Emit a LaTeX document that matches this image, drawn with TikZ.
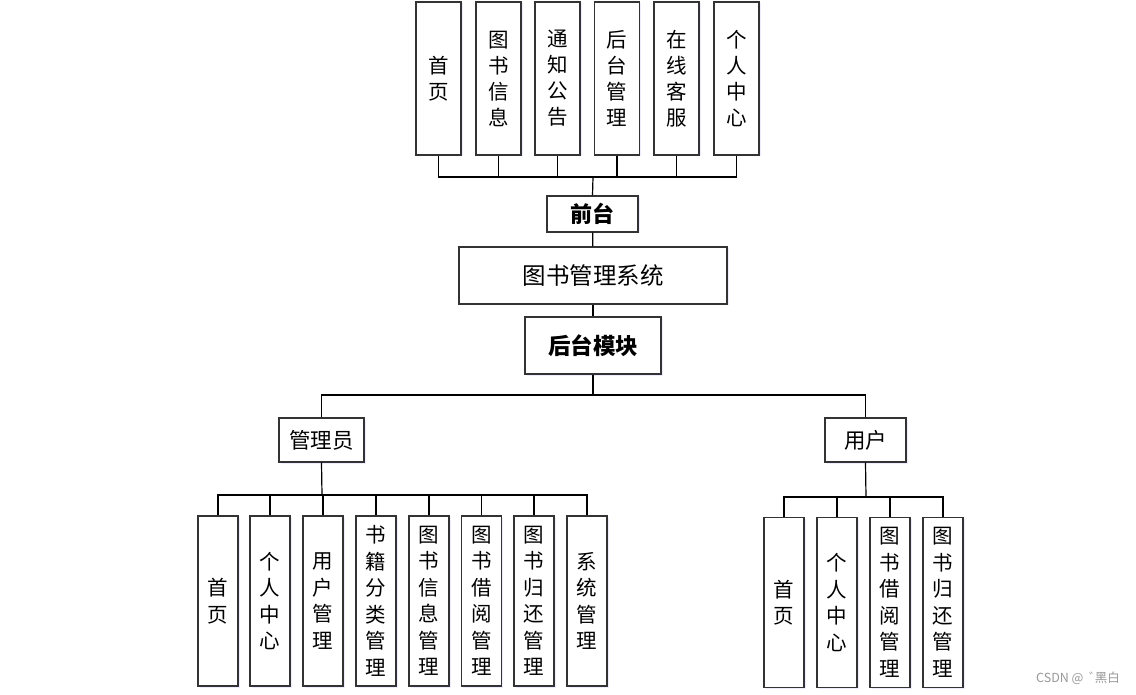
\documentclass[tikz,border=0pt]{standalone}
\usepackage{fontspec}
\setmainfont{Noto Sans CJK SC}
\usetikzlibrary{shadows}

\begin{document}
\begin{tikzpicture}[x=1pt,y=-1pt,
  box/.style={draw=black!80,line width=1.2pt,fill=white,inner sep=0pt,align=center,
    drop shadow={shadow xshift=1.5pt,shadow yshift=-1.5pt,fill=blue!20,opacity=0.35}},
  topbox/.style={box,minimum width=45pt,minimum height=153pt,font=\fontsize{20.5}{26}\selectfont},
  lowbox/.style={box,minimum width=40pt,minimum height=170pt,font=\fontsize{20.5}{26.5}\selectfont},
  midbox/.style={box,font=\fontsize{21.5}{24}\selectfont},
  link/.style={line width=1.2pt,black}]
\fill[white] (0,0) rectangle (1136,695);
\useasboundingbox (0,0) rectangle (1136,695);

% front pages
\node[topbox] (t1) at (438.5,78.5) {首\\页};
\node[topbox] (t2) at (498.5,78.5) {图\\书\\信\\息};
\node[topbox] (t3) at (557.5,78.5) {通\\知\\公\\告};
\node[topbox] (t4) at (617,78.5) {后\\台\\管\\理};
\node[topbox] (t5) at (676.5,78.5) {在\\线\\客\\服};
\node[topbox] (t6) at (736.5,78.5) {个\\人\\中\\心};

\node[midbox,minimum width=91pt,minimum height=36pt,font=\fontsize{22}{24}\selectfont\bfseries] (qt) at (592.5,214) {前台};
\node[midbox,minimum width=268pt,minimum height=57pt,font=\fontsize{23.5}{24}\selectfont] (xt) at (593,275.5) {图书管理系统};
\node[midbox,minimum width=136pt,minimum height=57pt,font=\fontsize{22.5}{24}\selectfont\bfseries] (ht) at (593,345.5) {后台模块};

\node[midbox,minimum width=85pt,minimum height=44pt] (gly) at (321.5,440) {管理员};
\node[midbox,minimum width=81pt,minimum height=44pt] (yh) at (865.5,440) {用户};

% admin pages
\node[lowbox] (a1) at (218,601) {首\\页};
\node[lowbox] (a2) at (270,601) {个\\人\\中\\心};
\node[lowbox] (a3) at (323,601) {用\\户\\管\\理};
\node[lowbox] (a4) at (376,601) {书\\籍\\分\\类\\管\\理};
\node[lowbox] (a5) at (429,601) {图\\书\\信\\息\\管\\理};
\node[lowbox] (a6) at (481.5,601) {图\\书\\借\\阅\\管\\理};
\node[lowbox] (a7) at (534,601) {图\\书\\归\\还\\管\\理};
\node[lowbox] (a8) at (587,601) {系\\统\\管\\理};

% user pages
\node[lowbox] (u1) at (784,602.5) {首\\页};
\node[lowbox] (u2) at (837,602.5) {个\\人\\中\\心};
\node[lowbox] (u3) at (890,602.5) {图\\书\\借\\阅\\管\\理};
\node[lowbox] (u4) at (943,602.5) {图\\书\\归\\还\\管\\理};

\coordinate (tbus) at (593,177);
\coordinate (hbus) at (593,395);
\coordinate (abus) at (322,495);
\coordinate (ubus) at (866,497);

\draw[link] (t1.south) |- (tbus);
\draw[link] (t2.south) |- (tbus);
\draw[link] (t3.south) |- (tbus);
\draw[link] (t4.south) |- (tbus);
\draw[link] (t5.south) |- (tbus);
\draw[link] (t6.south) |- (tbus);
\draw[link] (tbus) -- (qt.north);
\draw[link] (qt) -- (xt);
\draw[link] (xt) -- (ht);

\draw[link] (ht.south) -- (hbus);
\draw[link] (hbus) -| (gly.north);
\draw[link] (hbus) -| (yh.north);

\draw[link] (gly.south) -- (abus);
\draw[link] (abus) -| (a1.north);
\draw[link] (abus) -| (a2.north);
\draw[link] (abus) -| (a3.north);
\draw[link] (abus) -| (a4.north);
\draw[link] (abus) -| (a5.north);
\draw[link] (abus) -| (a6.north);
\draw[link] (abus) -| (a7.north);
\draw[link] (abus) -| (a8.north);

\draw[link] (yh.south) -- (ubus);
\draw[link] (ubus) -| (u1.north);
\draw[link] (ubus) -| (u2.north);
\draw[link] (ubus) -| (u3.north);
\draw[link] (ubus) -| (u4.north);

\node[text=black!40,font=\fontsize{12.5}{12}\selectfont] (wm) at (1078,678) {CSDN @\ \ ゛\kern-0.55em黑白};

\end{tikzpicture}
\end{document}
